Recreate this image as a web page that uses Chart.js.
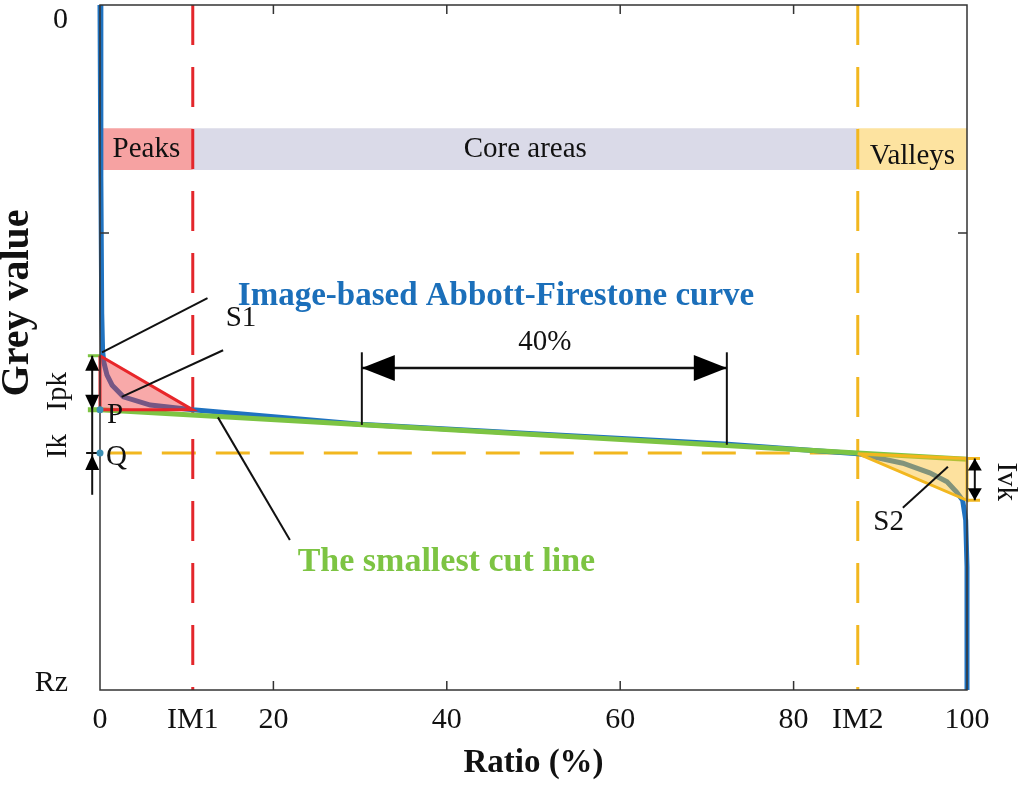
<!DOCTYPE html>
<html>
<head>
<meta charset="utf-8">
<script src="https://cdn.jsdelivr.net/npm/chart.js@4.4.0/dist/chart.umd.min.js"></script>
<style>
  body { margin: 0; background: #fff; }
</style>
</head>
<body>
<canvas id="abbott" width="1025" height="785"></canvas>
<script>
// Abbott-Firestone curve (ratio % vs grey value, 0 at top, Rz at bottom)
const curveRatio = [0, 0.1, 0.2, 0.3, 0.45, 0.8, 1.4, 2.7, 5.8, 10.7, 30, 50, 72, 87.4, 92.6, 95.7, 97.7, 98.8, 99.5, 99.85, 100, 100];
const curveGrey = [0, 25, 45, 50.5, 52.2, 54, 55.5, 57.2, 58.4, 59.1, 61.2, 62.6, 64.1, 65.5, 66.9, 68.3, 69.6, 71.1, 72.3, 75.2, 82, 100];

// smallest cut line (starts a little left of the axis at P)
const cutRatio = [-1.4, 0, 100];
const cutGrey = [59.1, 59.1, 66.3];

// peak triangle S1 and valley triangle S2
const peakTriRatio = [0, 10.7, 0, 0];
const peakTriGrey = [51.2, 59.1, 59.1, 51.2];
const valleyTriRatio = [87.4, 100, 100, 87.4];
const valleyTriGrey = [65.5, 66.2, 72.3, 65.5];

const im1 = 10.7, im2 = 87.4;
const pGrey = 59.1, qGrey = 65.4, ipkTop = 51.2;
const bandGrey = [18, 24.1];

const xTickValues = [0, im1, 20, 40, 60, 80, im2, 100];
const xTickLabels = ['0', 'IM1', '20', '40', '60', '80', 'IM2', '100'];
const yTickValues = [2.2, 99];
const yTickLabels = ['0', 'Rz'];

const serif = '"Liberation Serif", "Times New Roman", serif';
const pts = (xs, ys) => xs.map((v, i) => ({x: v, y: ys[i]}));
const rect = (x0, x1) => pts([x0, x1, x1, x0, x0], [bandGrey[0], bandGrey[0], bandGrey[1], bandGrey[1], bandGrey[0]]);

const base = {showLine: true, pointRadius: 0, clip: false, fill: false, borderWidth: 3};

const decor = {
    id: 'decor',
    afterDatasetsDraw(chart) {
        const {ctx, chartArea: a, scales: {x, y}} = chart;
        const px = v => x.getPixelForValue(v);
        const py = v => y.getPixelForValue(v);

        const seg = (x1, y1, x2, y2, color, w) => {
            ctx.beginPath();
            ctx.strokeStyle = color || '#111';
            ctx.lineWidth = w || 2;
            ctx.moveTo(px(x1), py(y1));
            ctx.lineTo(px(x2), py(y2));
            ctx.stroke();
        };
        const head = (tx, ty, ang, len, half) => {
            const X = px(tx), Y = py(ty);
            ctx.save();
            ctx.translate(X, Y);
            ctx.rotate(ang);
            ctx.beginPath();
            ctx.moveTo(0, 0);
            ctx.lineTo(-len, -half);
            ctx.lineTo(-len, half);
            ctx.closePath();
            ctx.fillStyle = '#000';
            ctx.fill();
            ctx.restore();
        };
        const text = (s, tx, ty, font, color, align, rot) => {
            ctx.save();
            ctx.translate(px(tx), py(ty));
            if (rot) ctx.rotate(rot);
            ctx.font = font;
            ctx.fillStyle = color || '#111';
            ctx.textAlign = align || 'left';
            ctx.textBaseline = 'middle';
            ctx.fillText(s, 0, 0);
            ctx.restore();
        };

        ctx.save();
        // frame + inward ticks
        ctx.strokeStyle = '#333';
        ctx.lineWidth = 1.5;
        ctx.strokeRect(a.left, a.top, a.right - a.left, a.bottom - a.top);
        ctx.beginPath();
        [20, 40, 60, 80].forEach(v => {
            ctx.moveTo(px(v), a.bottom); ctx.lineTo(px(v), a.bottom - 9);
            ctx.moveTo(px(v), a.top); ctx.lineTo(px(v), a.top + 9);
        });
        ctx.moveTo(a.left, py(33.3)); ctx.lineTo(a.left + 9, py(33.3));
        ctx.moveTo(a.right, py(33.3)); ctx.lineTo(a.right - 9, py(33.3));
        ctx.stroke();

        // band labels
        const bandMid = (bandGrey[0] + bandGrey[1]) / 2;
        const f29 = '29px ' + serif;
        text('Peaks', im1 / 2, bandMid, f29, '#111', 'center');
        text('Core areas', (im1 + im2) / 2, bandMid, f29, '#111', 'center');
        text('Valleys', (im2 + 100) / 2, bandMid + 1, f29, '#111', 'center');

        // leader lines
        seg(0.23, 50.7, 12.4, 42.8);
        seg(14.2, 50.4, 2.5, 57.2);
        seg(13.6, 60.2, 21.9, 78.1);
        seg(92.6, 73.4, 97.8, 67.4);

        // 40% dimension
        seg(30.2, 50.7, 30.2, 61.3);
        seg(72.3, 50.7, 72.3, 64.2);
        seg(30.2, 53, 72.3, 53, '#111', 2.5);
        head(30.2, 53, Math.PI, 33, 13);
        head(72.3, 53, 0, 33, 13);

        // Ipk / Ik dimension on the left
        seg(-0.9, ipkTop, -0.9, 71.5, '#111', 2);
        seg(-1.6, qGrey, 0, qGrey, '#111', 2);
        head(-0.9, ipkTop, -Math.PI / 2, 15, 7);
        head(-0.9, pGrey, Math.PI / 2, 15, 7);
        head(-0.9, qGrey + 0.3, -Math.PI / 2, 15, 7);

        // Ivk dimension on the right
        seg(100.9, 66.2, 100.9, 72.3, '#111', 2);
        head(100.9, 66.2, -Math.PI / 2, 12, 7);
        head(100.9, 72.3, Math.PI / 2, 12, 7);

        // P and Q points
        ctx.fillStyle = '#3b8fb5';
        [pGrey, qGrey].forEach(g => {
            ctx.beginPath();
            ctx.arc(px(0), py(g), 3.5, 0, Math.PI * 2);
            ctx.fill();
        });

        // labels
        text('Image-based Abbott-Firestone curve', 15.9, 42.6, 'bold 33px ' + serif, '#1b6fba');
        text('The smallest cut line', 22.8, 81.3, 'bold 34px ' + serif, '#7dc443');
        text('S1', 14.5, 45.7, f29);
        text('S2', 89.2, 75.5, f29);
        text('40%', 51.3, 49.2, f29, '#111', 'center');
        text('P', 0.8, 59.9, f29);
        text('Q', 0.7, 66.1, f29);
        text('Ipk', -4.8, 56.4, f29, '#111', 'center', -Math.PI / 2);
        text('Ik', -4.8, 64.4, f29, '#111', 'center', -Math.PI / 2);
        text('Ivk', 104.4, 69.6, f29, '#111', 'center', Math.PI / 2);
        text('Grey value', -9.5, 43.5, 'bold 40px ' + serif, '#111', 'center', -Math.PI / 2);
        ctx.restore();
    }
};

new Chart(document.getElementById('abbott'), {
    type: 'scatter',
    data: {
        datasets: [
            {...base, order: 10, data: rect(0, im1), borderWidth: 0, fill: 'shape', backgroundColor: '#f6a2a2'},
            {...base, order: 10, data: rect(im1, im2), borderWidth: 0, fill: 'shape', backgroundColor: '#dadae8'},
            {...base, order: 10, data: rect(im2, 100), borderWidth: 0, fill: 'shape', backgroundColor: '#fde3a0'},
            {...base, order: 7, data: pts([im1, im1], [0, 100]), borderColor: '#e3262b', borderDash: [40, 22]},
            {...base, order: 7, data: pts([im2, im2], [0, 100]), borderColor: '#f2b71f', borderDash: [40, 22]},
            {...base, order: 8, data: pts([0.9, im2], [qGrey, qGrey]), borderColor: '#f2b71f', borderDash: [34, 20]},
            {...base, order: 6, data: pts([-1.4, 0], [ipkTop, ipkTop]), borderColor: '#7dc443', borderWidth: 3},
            {...base, order: 5, data: pts(cutRatio, cutGrey), borderColor: '#7dc443', borderWidth: 5},
            {...base, order: 6, data: pts(curveRatio, curveGrey), borderColor: '#1f72c0', borderWidth: 5},
            {...base, order: 2, data: pts(peakTriRatio, peakTriGrey), borderColor: '#e8262a', fill: 'shape', backgroundColor: 'rgba(238,50,50,0.42)'},
            {...base, order: 2, data: pts(valleyTriRatio, valleyTriGrey), borderColor: '#f2b71f', fill: 'shape', backgroundColor: 'rgba(250,188,40,0.45)'},
            {...base, order: 2, data: pts([100, 101.5], [66.2, 66.2]), borderColor: '#f2b71f'},
            {...base, order: 2, data: pts([100, 101.5], [72.3, 72.3]), borderColor: '#f2b71f'}
        ]
    },
    options: {
        responsive: false,
        animation: false,
        layout: {padding: {top: 5, right: 58, left: 0, bottom: 0}},
        plugins: {legend: {display: false}, tooltip: {enabled: false}},
        scales: {
            x: {
                type: 'linear', min: 0, max: 100,
                afterBuildTicks: s => { s.ticks = xTickValues.map(v => ({value: v})); },
                afterFit: s => { s.height = 95; },
                grid: {display: false, drawTicks: false},
                border: {display: false},
                ticks: {
                    autoSkip: false, maxRotation: 0, padding: 12, color: '#111',
                    font: {family: serif, size: 30},
                    callback: (v, i) => xTickLabels[i]
                },
                title: {display: true, text: 'Ratio (%)', color: '#111', padding: {top: 0, bottom: 2},
                    font: {family: serif, size: 33, weight: 'bold'}}
            },
            y: {
                type: 'linear', min: 0, max: 100, reverse: true,
                afterBuildTicks: s => { s.ticks = yTickValues.map(v => ({value: v})); },
                afterFit: s => { s.width = 100; s.paddingTop = 0; s.paddingBottom = 0; },
                grid: {display: false, drawTicks: false},
                border: {display: false},
                ticks: {
                    autoSkip: false, padding: 32, color: '#111',
                    font: {family: serif, size: 30},
                    callback: (v, i) => yTickLabels[i]
                }
            }
        }
    },
    plugins: [decor]
});
</script>
</body>
</html>
